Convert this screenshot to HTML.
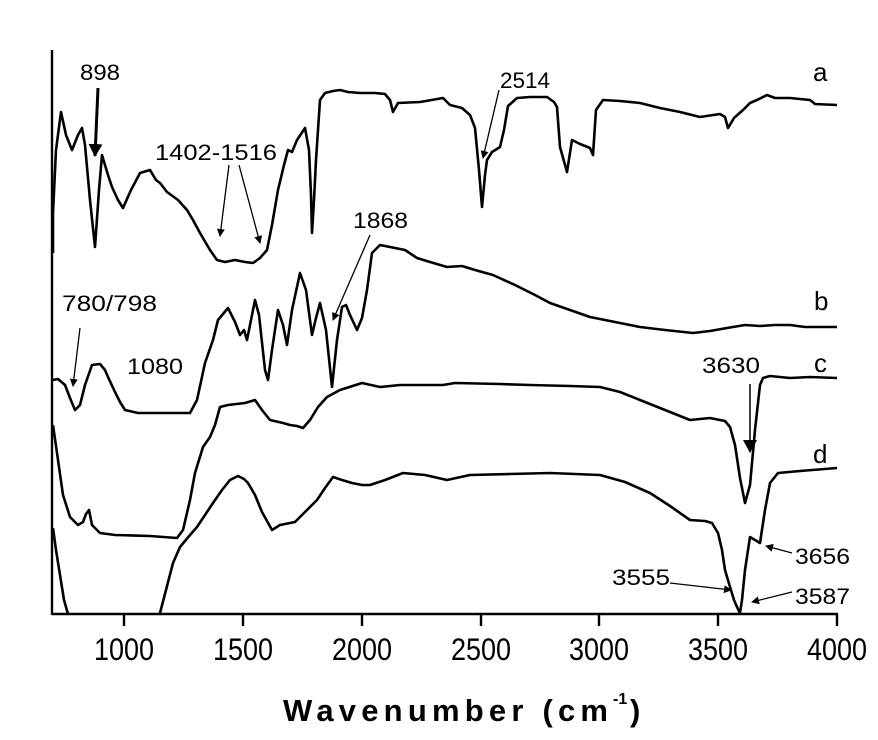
<!DOCTYPE html>
<html><head><style>
html,body{margin:0;padding:0;background:#fff;}
svg{display:block;}
text{font-family:"Liberation Sans",Arial,sans-serif;fill:#000;}
</style></head><body>
<svg width="878" height="740" viewBox="0 0 878 740" xmlns="http://www.w3.org/2000/svg">
<defs>
<marker id="ah" markerWidth="8" markerHeight="8" refX="7" refY="4" orient="auto" markerUnits="userSpaceOnUse">
<path d="M0,0 L8,4 L0,8 z" fill="#000"/>
</marker>
<marker id="ahb" markerWidth="14" markerHeight="14" refX="12" refY="7" orient="auto" markerUnits="userSpaceOnUse">
<path d="M0,0 L13,7 L0,14 z" fill="#000"/>
</marker>
</defs>
<g fill="none" stroke="#000" stroke-width="2.6" stroke-linejoin="round">
<polyline points="53,253 53,213 56,150 61,112 66,135 72,150 78,135 82,128 85,145 90,200 95,247 99,190 102,155 108,175 112,187 118,200 123,208 131,190 140,173 150,170 156,180 160,183 167,192 178,200 187,210 193,220 200,233 210,250 217,260 225,262 235,260 245,262 253,263 260,258 267,250 272,225 278,190 284,165 288,150 292,152 297,140 305,128 309,150 311,195 312,233 314,200 316,160 320,100 325,93 333,91 340,90 348,92 360,93 375,93 385,94 390,100 393,112 398,103 420,102 443,98 450,105 462,108 470,115 475,128 479,170 482,207 485,175 487,160 492,152 500,147 504,130 508,106 517,98 530,97 547,97 554,102 557,107 560,147 567,172 572,140 580,144 590,148 593,155 596,110 603,100 620,101 640,103 660,108 680,112 700,117 720,114 725,117 728,128 734,118 743,110 750,103 757,100 767,95 775,98 790,98 800,99 810,100 815,104 837,105"/>
<polyline points="53,380 58,379 65,385 70,398 75,410 80,405 85,385 92,365 100,364 105,370 108,377 115,392 120,402 125,410 138,413 165,413 190,413 197,400 205,363 213,340 218,320 228,308 235,322 240,335 244,330 247,340 251,320 255,300 259,315 265,370 268,380 272,350 278,310 283,325 287,345 292,310 300,273 306,290 312,335 316,318 320,303 326,330 332,387 337,340 342,307 346,305 350,315 357,330 362,318 367,290 372,253 380,245 395,248 405,250 417,258 430,262 447,267 462,266 475,270 493,275 515,285 535,295 550,303 570,310 590,317 615,322 640,327 665,330 693,333 710,331 727,328 745,325 760,326 775,325 790,325 805,327 837,327"/>
<polyline points="53,425 58,460 63,495 70,517 78,525 83,522 86,514 89,510 92,525 100,533 115,535 150,536 177,538 183,530 190,500 195,473 203,447 210,437 215,425 220,407 228,405 245,403 255,400 262,410 270,420 283,423 290,425 297,426 303,428 310,420 318,407 327,397 340,390 362,383 380,387 400,385 443,385 455,383 500,384 530,385 570,386 600,387 620,392 640,400 660,408 690,420 710,418 725,421 730,427 735,445 740,478 745,503 750,485 755,430 760,385 763,378 770,376 790,378 810,377 837,378"/>
<polyline points="53,528 56,550 60,575 64,600 68,614"/>
<polyline points="160,613 166,590 173,563 180,547 190,535 197,527 205,515 213,503 222,490 230,480 238,476 244,479 248,483 255,495 262,512 272,530 280,525 295,522 305,512 317,500 325,488 333,477 342,480 352,483 362,485 370,485 385,480 403,473 425,475 447,480 470,475 510,474 550,473 600,475 625,482 650,493 670,506 690,520 705,521 712,523 718,533 722,550 725,570 730,587 734,600 737,607 740,613 742,600 745,570 750,537 755,540 760,543 765,510 770,483 778,473 800,471 837,468"/>
</g>
<g stroke="#000" stroke-width="2.4" fill="none">
<line x1="52" y1="50" x2="52" y2="615"/>
<line x1="52" y1="614" x2="838" y2="614"/>
<line x1="124" y1="614" x2="124" y2="626"/>
<line x1="243" y1="614" x2="243" y2="626"/>
<line x1="362" y1="614" x2="362" y2="626"/>
<line x1="481" y1="614" x2="481" y2="626"/>
<line x1="599" y1="614" x2="599" y2="626"/>
<line x1="718" y1="614" x2="718" y2="626"/>
<line x1="837" y1="614" x2="837" y2="626"/>
</g>
<g stroke="#000" fill="none">
<line x1="98" y1="88" x2="95" y2="156" stroke-width="3" marker-end="url(#ahb)"/>
<line x1="229" y1="165" x2="220" y2="236" stroke-width="1.3" marker-end="url(#ah)"/>
<line x1="239" y1="165" x2="260" y2="243" stroke-width="1.3" marker-end="url(#ah)"/>
<line x1="499" y1="90" x2="483" y2="158" stroke-width="1.3" marker-end="url(#ah)"/>
<line x1="370" y1="235" x2="333" y2="320" stroke-width="1.3" marker-end="url(#ah)"/>
<line x1="80" y1="328" x2="73" y2="386" stroke-width="1.3" marker-end="url(#ah)"/>
<line x1="750" y1="384" x2="750" y2="452" stroke-width="1.5" marker-end="url(#ahb)"/>
<line x1="792" y1="553" x2="766" y2="546" stroke-width="1.3" marker-end="url(#ah)"/>
<line x1="670" y1="583" x2="731" y2="590" stroke-width="1.3" marker-end="url(#ah)"/>
<line x1="792" y1="592" x2="752" y2="602" stroke-width="1.3" marker-end="url(#ah)"/>
</g>
<g font-size="22">
<text x="80" y="80" textLength="40" lengthAdjust="spacingAndGlyphs">898</text>
<text x="155" y="160" textLength="122" lengthAdjust="spacingAndGlyphs">1402-1516</text>
<text x="500" y="88" textLength="50" lengthAdjust="spacingAndGlyphs">2514</text>
<text x="353" y="228" textLength="55" lengthAdjust="spacingAndGlyphs">1868</text>
<text x="62" y="311" textLength="95" lengthAdjust="spacingAndGlyphs">780/798</text>
<text x="127" y="374" textLength="56" lengthAdjust="spacingAndGlyphs">1080</text>
<text x="702" y="373" textLength="58" lengthAdjust="spacingAndGlyphs">3630</text>
<text x="795" y="564" textLength="55" lengthAdjust="spacingAndGlyphs">3656</text>
<text x="612" y="585" textLength="58" lengthAdjust="spacingAndGlyphs">3555</text>
<text x="795" y="604" textLength="55" lengthAdjust="spacingAndGlyphs">3587</text>
</g>
<g font-size="26">
<text x="813" y="81">a</text>
<text x="814" y="310">b</text>
<text x="814" y="372">c</text>
<text x="813" y="463">d</text>
</g>
<g font-size="27" text-anchor="middle" transform="translate(0,660) scale(1,1.15) translate(0,-660)">
<text x="124" y="660">1000</text>
<text x="243" y="660">1500</text>
<text x="362" y="660">2000</text>
<text x="481" y="660">2500</text>
<text x="599" y="660">3000</text>
<text x="718" y="660">3500</text>
<text x="837" y="660">4000</text>
</g>
<text x="283" y="721" font-size="31" font-weight="bold" textLength="325" lengthAdjust="spacing">Wavenumber (cm</text>
<text x="613" y="704" font-size="16" font-weight="bold">-1</text>
<text x="630" y="721" font-size="31" font-weight="bold">)</text>
</svg>
</body></html>
